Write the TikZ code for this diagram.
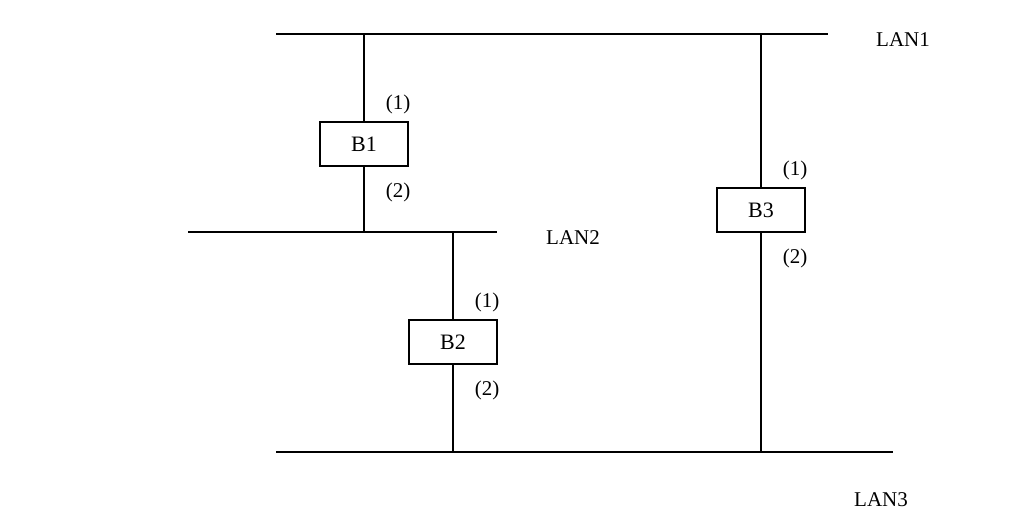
\documentclass[tikz,border=0pt]{standalone}
\usepackage{fontspec}
\setmainfont{Liberation Serif}
\begin{document}
\begin{tikzpicture}[x=1pt,y=-1pt,line width=1.2pt,
  box/.style={draw,minimum width=88pt,minimum height=44pt,inner sep=0pt,font=\fontsize{22}{24}\selectfont},
  lbl/.style={font=\fontsize{21}{24}\selectfont,inner sep=0pt}]
\useasboundingbox (0,0) rectangle (1024,520);
\coordinate (l1a) at (276,34); \coordinate (l1b) at (828,34);
\coordinate (l2a) at (188,232); \coordinate (l2b) at (497,232);
\coordinate (l3a) at (276,452); \coordinate (l3b) at (893,452);
\draw (l1a)--(l1b); \draw (l2a)--(l2b); \draw (l3a)--(l3b);
\node[lbl] at (903,40) {LAN1};
\node[lbl] at (573,238) {LAN2};
\node[lbl] at (881,500) {LAN3};
\node[box] (b1) at (364,144) {B1};
\node[box] (b2) at (453,342) {B2};
\node[box] (b3) at (761,210) {B3};
\coordinate (b1t) at (364,34); \coordinate (b1b) at (364,232);
\coordinate (b2t) at (453,232); \coordinate (b2b) at (453,452);
\coordinate (b3t) at (761,34); \coordinate (b3b) at (761,452);
\draw (b1t)--(b1.north); \draw (b1.south)--(b1b);
\draw (b2t)--(b2.north); \draw (b2.south)--(b2b);
\draw (b3t)--(b3.north); \draw (b3.south)--(b3b);
\node[lbl] at (398,104) {(1)}; \node[lbl] at (398,192) {(2)};
\node[lbl] at (487,302) {(1)}; \node[lbl] at (487,390) {(2)};
\node[lbl] at (795,170) {(1)}; \node[lbl] at (795,258) {(2)};
\end{tikzpicture}
\end{document}
